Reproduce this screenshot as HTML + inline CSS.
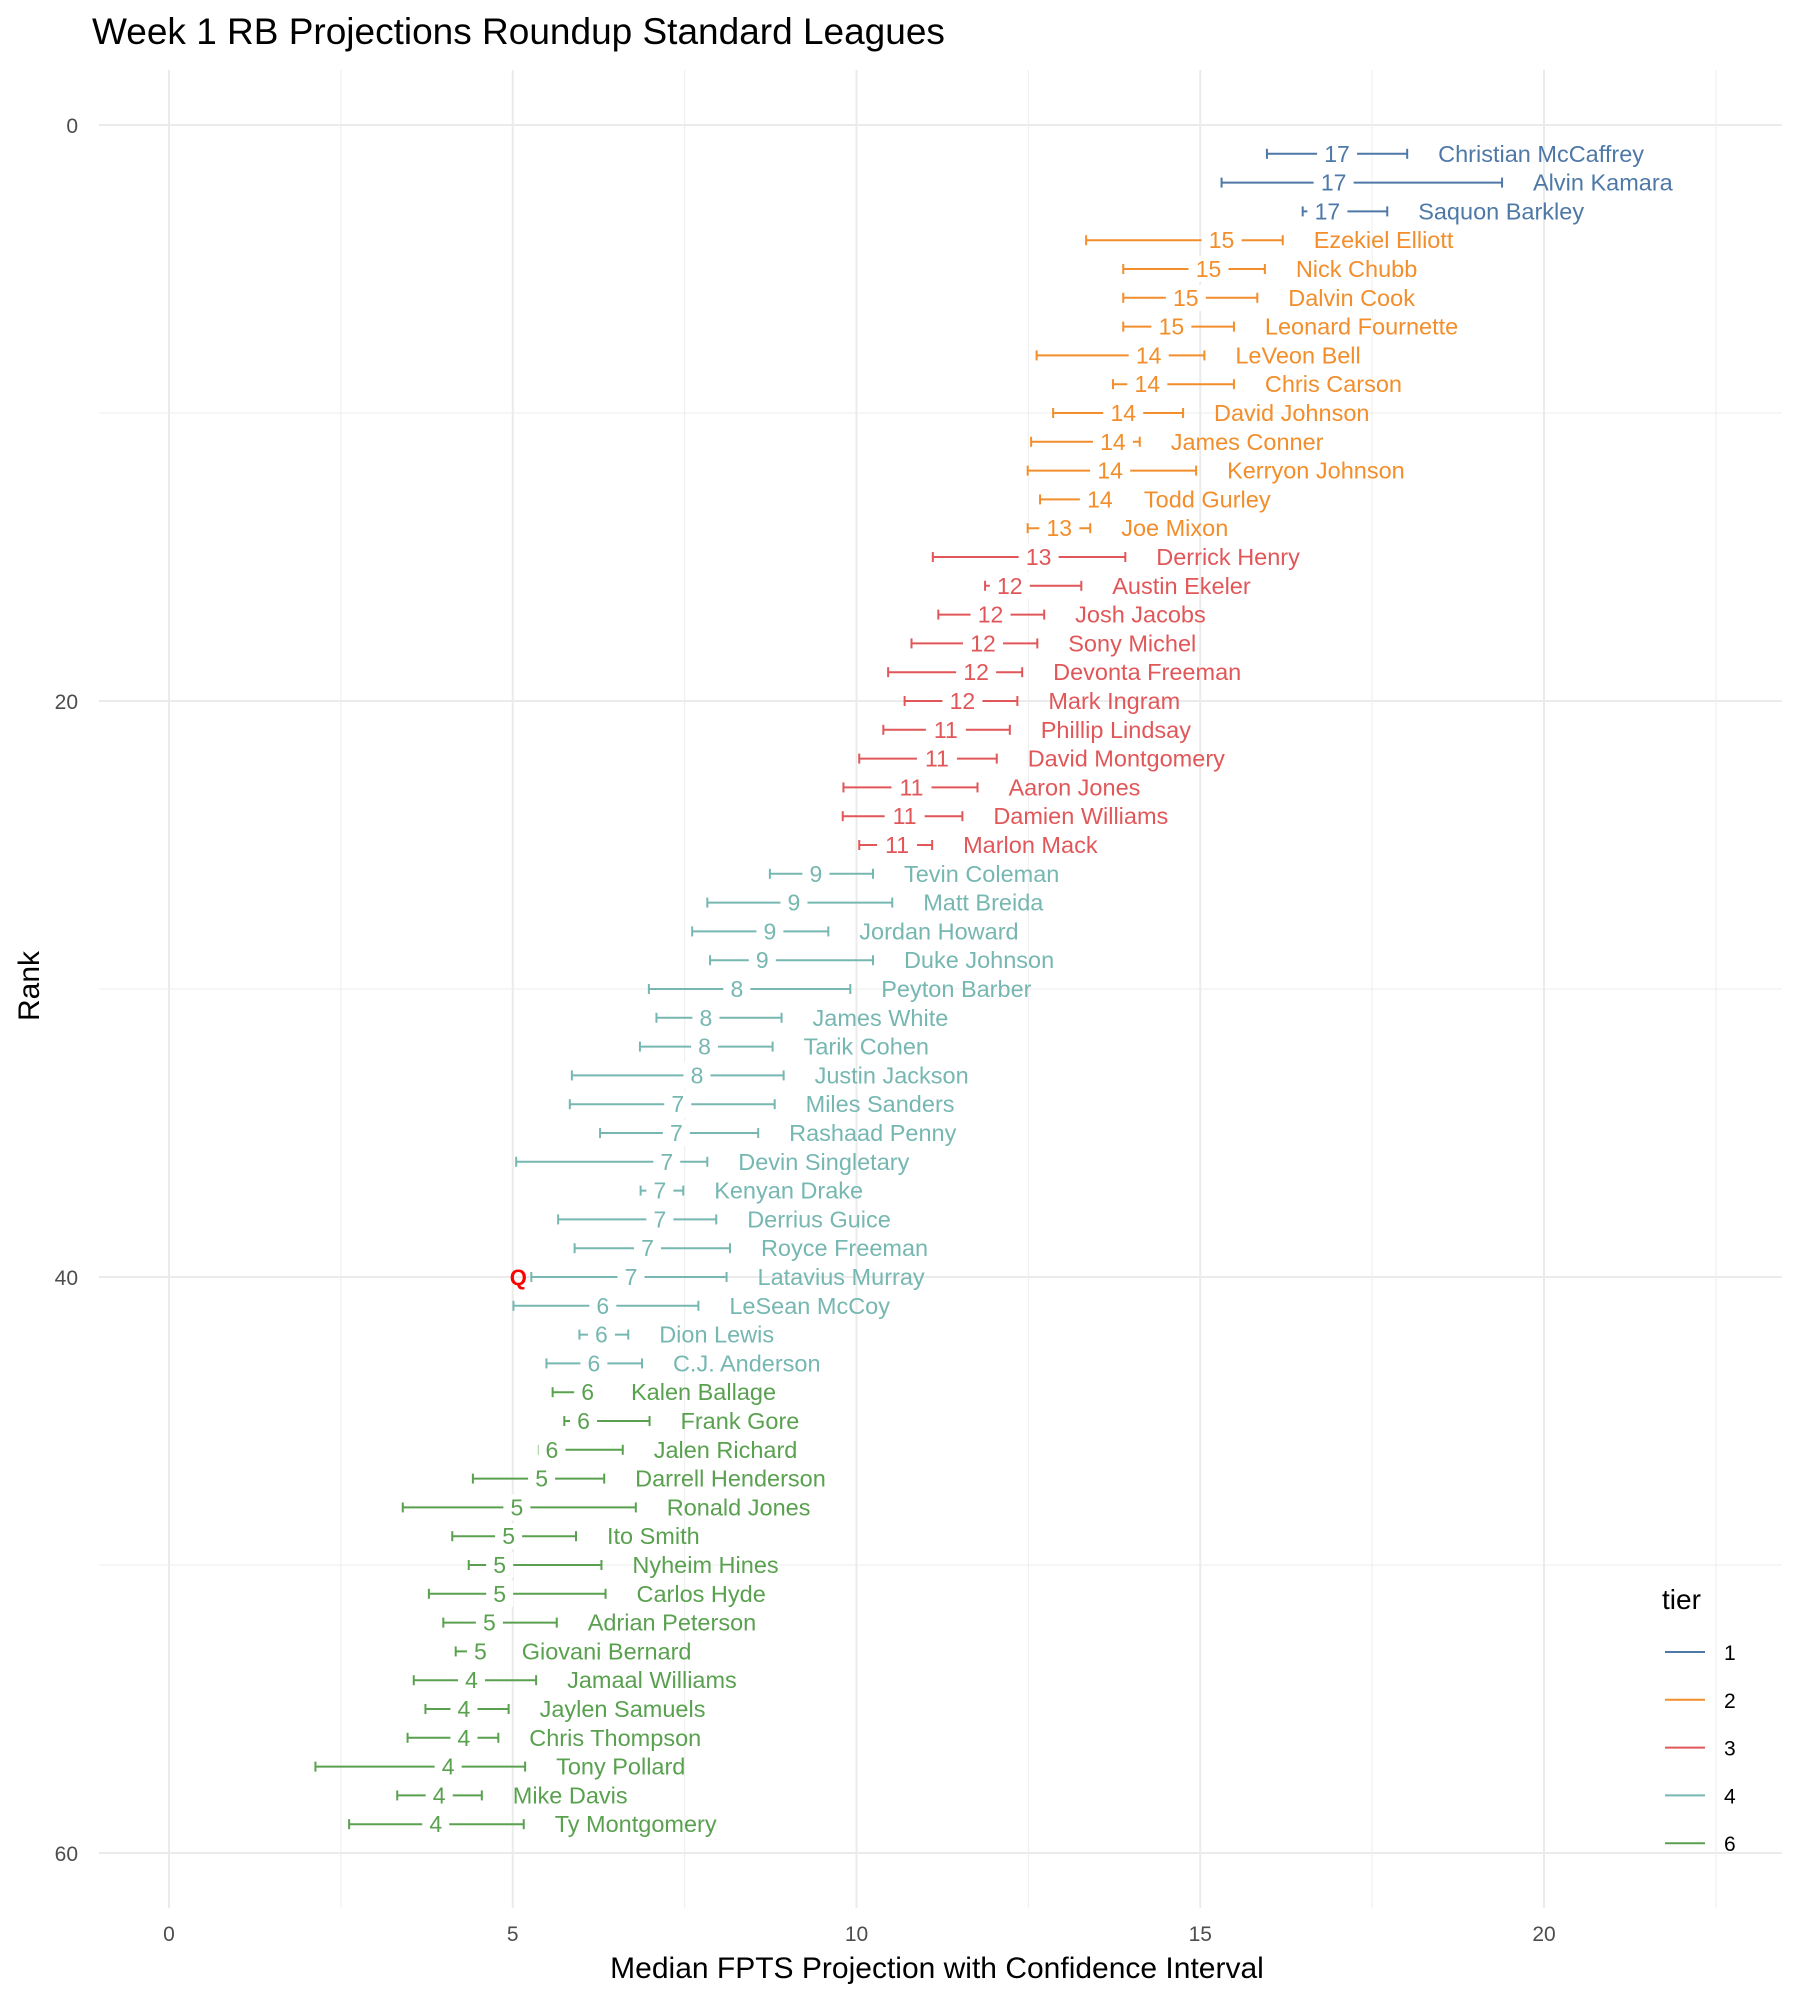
<!DOCTYPE html>
<html><head><meta charset="utf-8"><style>
html,body{margin:0;padding:0;background:#fff;}
svg text{font-family:"Liberation Sans",Arial,sans-serif;}
</style></head><body>
<svg id="chart" width="1800" height="2000" xmlns="http://www.w3.org/2000/svg">
<g id="grid"></g>
<g id="marks"></g>
<g id="axes"></g>
<text x="92" y="44" font-size="37" fill="#000">Week 1 RB Projections Roundup Standard Leagues</text>
<text x="937" y="1978" font-size="30" text-anchor="middle" fill="#000">Median FPTS Projection with Confidence Interval</text>
<text transform="translate(39,986) rotate(-90)" font-size="30" text-anchor="middle" fill="#000">Rank</text>
<g id="legend"></g>
</svg>
<script>
const players=["Christian McCaffrey","Alvin Kamara","Saquon Barkley","Ezekiel Elliott","Nick Chubb","Dalvin Cook","Leonard Fournette","LeVeon Bell","Chris Carson","David Johnson","James Conner","Kerryon Johnson","Todd Gurley","Joe Mixon","Derrick Henry","Austin Ekeler","Josh Jacobs","Sony Michel","Devonta Freeman","Mark Ingram","Phillip Lindsay","David Montgomery","Aaron Jones","Damien Williams","Marlon Mack","Tevin Coleman","Matt Breida","Jordan Howard","Duke Johnson","Peyton Barber","James White","Tarik Cohen","Justin Jackson","Miles Sanders","Rashaad Penny","Devin Singletary","Kenyan Drake","Derrius Guice","Royce Freeman","Latavius Murray","LeSean McCoy","Dion Lewis","C.J. Anderson","Kalen Ballage","Frank Gore","Jalen Richard","Darrell Henderson","Ronald Jones","Ito Smith","Nyheim Hines","Carlos Hyde","Adrian Peterson","Giovani Bernard","Jamaal Williams","Jaylen Samuels","Chris Thompson","Tony Pollard","Mike Davis","Ty Montgomery"];
const tiers=[1,1,1,2,2,2,2,2,2,2,2,2,2,2,3,3,3,3,3,3,3,3,3,3,3,4,4,4,4,4,4,4,4,4,4,4,4,4,4,4,4,4,4,6,6,6,6,6,6,6,6,6,6,6,6,6,6,6,6];
const lows=[15.97,15.31,16.49,13.34,13.88,13.88,13.88,12.62,13.73,12.86,12.54,12.49,12.67,12.49,11.11,11.87,11.19,10.80,10.46,10.70,10.39,10.04,9.81,9.80,10.04,8.74,7.83,7.61,7.87,6.98,7.09,6.85,5.86,5.83,6.27,5.05,6.86,5.66,5.90,5.27,5.01,5.97,5.49,5.58,5.75,5.38,4.42,3.40,4.12,4.36,3.78,3.99,4.17,3.56,3.73,3.47,2.13,3.32,2.62];
const highs=[18.01,19.39,17.72,16.20,15.94,15.83,15.49,15.06,15.49,14.75,14.12,14.94,13.73,13.40,13.91,13.27,12.73,12.63,12.41,12.34,12.23,12.04,11.76,11.54,11.10,10.24,10.52,9.59,10.24,9.91,8.91,8.78,8.94,8.81,8.57,7.83,7.48,7.96,8.16,8.11,7.70,6.68,6.88,6.27,6.99,6.60,6.33,6.79,5.92,6.29,6.35,5.64,4.68,5.34,4.94,4.79,5.18,4.55,5.16];
const medians=[16.99,16.94,16.85,15.31,15.12,14.79,14.58,14.25,14.23,13.88,13.73,13.69,13.54,12.95,12.65,12.23,11.95,11.84,11.74,11.54,11.30,11.17,10.80,10.70,10.59,9.41,9.09,8.74,8.63,8.26,7.81,7.79,7.68,7.40,7.38,7.24,7.14,7.14,6.96,6.72,6.31,6.29,6.18,6.09,6.03,5.57,5.42,5.06,4.94,4.81,4.81,4.66,4.53,4.40,4.29,4.29,4.06,3.93,3.88];
const valueLabels=[17,17,17,15,15,15,15,14,14,14,14,14,14,13,13,12,12,12,12,12,11,11,11,11,11,9,9,9,9,8,8,8,8,7,7,7,7,7,7,7,6,6,6,6,6,6,5,5,5,5,5,5,5,4,4,4,4,4,4];
const xTicks=[0,5,10,15,20];
const yTicks=[0,20,40,60];
const legendTiers=[1,2,3,4,6];
const tierColors={1:"#4e79a7",2:"#f28e2b",3:"#e15759",4:"#76b7b2",6:"#59a14f"};
const qRank=40, qValue=5.08;

const NS="http://www.w3.org/2000/svg";
const X=v=>169+68.75*v;
const Y=r=>125+28.8*r;
const PL=99,PR=1782,PT=70,PB=1908;
function mk(tag,attrs,parent,text){const e=document.createElementNS(NS,tag);for(const k in attrs)e.setAttribute(k,attrs[k]);if(text!==undefined)e.textContent=text;parent.appendChild(e);return e;}
const grid=document.getElementById('grid'),marks=document.getElementById('marks'),axes=document.getElementById('axes'),legend=document.getElementById('legend');
[2.5,7.5,12.5,17.5,22.5].forEach(v=>{const l=mk('line',{x1:X(v),x2:X(v),y1:PT,y2:PB,stroke:'#f0f0f0','stroke-width':1.2},grid);

});
[10,30,50].forEach(r=>{const l=mk('line',{x1:PL,x2:PR,y1:Y(r),y2:Y(r),stroke:'#f0f0f0','stroke-width':1.2},grid);

});
xTicks.forEach(v=>{const l=mk('line',{x1:X(v),x2:X(v),y1:PT,y2:PB,stroke:'#ebebeb','stroke-width':2},grid);


const t=mk('text',{x:X(v),y:1941,'font-size':21,'text-anchor':'middle',fill:'#4d4d4d'},axes,String(v));

});
yTicks.forEach(r=>{const l=mk('line',{x1:PL,x2:PR,y1:Y(r),y2:Y(r),stroke:'#ebebeb','stroke-width':2},grid);


const t=mk('text',{x:78,y:Y(r)+8,'font-size':21,'text-anchor':'end',fill:'#4d4d4d'},axes,String(r));

});
players.forEach((p,i)=>{
 const r=i+1,y=Y(r),c=tierColors[tiers[i]];
 const g=mk('g',{},marks);
 
 
 mk('line',{x1:X(lows[i]),x2:X(highs[i]),y1:y,y2:y,stroke:c,'stroke-width':2},g);
 mk('line',{x1:X(lows[i]),x2:X(lows[i]),y1:y-5,y2:y+5,stroke:c,'stroke-width':2},g);
 mk('line',{x1:X(highs[i]),x2:X(highs[i]),y1:y-5,y2:y+5,stroke:c,'stroke-width':2},g);
 const mx=X(medians[i]);
 const lab=String(valueLabels[i]);
 const w=lab.length*13+14;
 mk('rect',{x:mx-w/2,y:y-13,width:w,height:26,fill:'#fff'},g);
 const vt=mk('text',{x:mx,y:y+8,'font-size':23,'text-anchor':'middle',fill:c},g,lab);
 
 
 const nt=mk('text',{x:X(highs[i]+0.45),y:y+8,'font-size':23.5,fill:c},g,p);
 
 
});
const q=mk('text',{x:X(qValue),y:Y(qRank)+8,'font-size':22,'font-weight':'bold','text-anchor':'middle',fill:'#ff0000'},marks,'Q');


const lt=mk('text',{x:1662,y:1609,'font-size':28,fill:'#000'},legend,'tier');


legendTiers.forEach((t,i)=>{const y=1652+i*47.8;
 const g=mk('g',{},legend);
 
 
 mk('line',{x1:1665,x2:1705,y1:y,y2:y,stroke:tierColors[t],'stroke-width':2},g);
 mk('text',{x:1724,y:y+8,'font-size':21,fill:'#000'},g,String(t));});
</script>
</body></html>
